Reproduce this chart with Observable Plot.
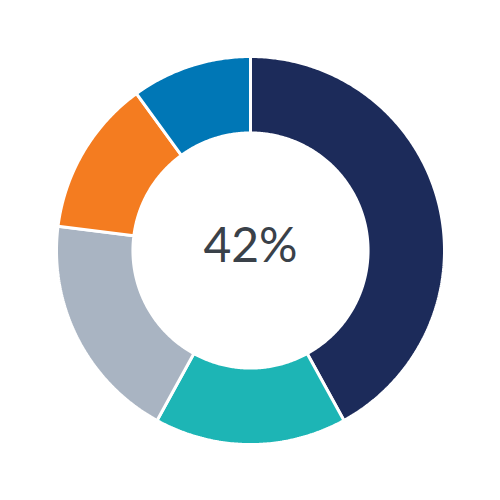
<!DOCTYPE html>
<html>
<head>
<meta charset="utf-8">
<script src="https://cdn.jsdelivr.net/npm/d3@7"></script>
<script src="https://cdn.jsdelivr.net/npm/@observablehq/plot@0.6"></script>
<style>
  html, body { margin: 0; padding: 0; background: #fff; }
</style>
</head>
<body>
<div id="chart"></div>
<script>
const categories = ["A", "B", "C", "D", "E"];
const values = [42, 16, 19, 13, 10];
const colors = ["#1c2b5a", "#1db5b5", "#a9b4c2", "#f47c20", "#0077b6"];
const centerLabel = "42%";

const innerRatio = 0.606;
const pie = d3.pie().sort(null).value(d => d.value)(categories.map((c, i) => ({name: c, value: values[i]})));

const pts = [];
for (const arc of pie) {
  const name = arc.data.name;
  const n = Math.max(2, Math.ceil((arc.endAngle - arc.startAngle) / 0.01));
  const ring = [];
  for (let k = 0; k <= n; k++) {
    const a = arc.startAngle + (arc.endAngle - arc.startAngle) * k / n;
    ring.push({name, x: Math.sin(a), y: Math.cos(a)});
  }
  for (let k = n; k >= 0; k--) {
    const a = arc.startAngle + (arc.endAngle - arc.startAngle) * k / n;
    ring.push({name, x: innerRatio * Math.sin(a), y: innerRatio * Math.cos(a)});
  }
  ring.push({...ring[0]});
  pts.push(...ring);
}

const chart = Plot.plot({
  width: 500,
  height: 500,
  margin: 56,
  x: {domain: [-1, 1], axis: null},
  y: {domain: [-1, 1], axis: null},
  color: {domain: categories, range: colors},
  marks: [
    Plot.line(pts, {x: "x", y: "y", z: "name", fill: "name", stroke: "white", strokeWidth: 3, strokeLinejoin: "miter", curve: "linear"}),
    Plot.text([centerLabel], {x: () => 0, y: () => 0, text: d => d, fontSize: 48, fontWeight: 400, fill: "#3a4149", dy: -4, fontFamily: "Lato, sans-serif"})
  ]
});
document.getElementById("chart").appendChild(chart);
</script>
</body>
</html>
